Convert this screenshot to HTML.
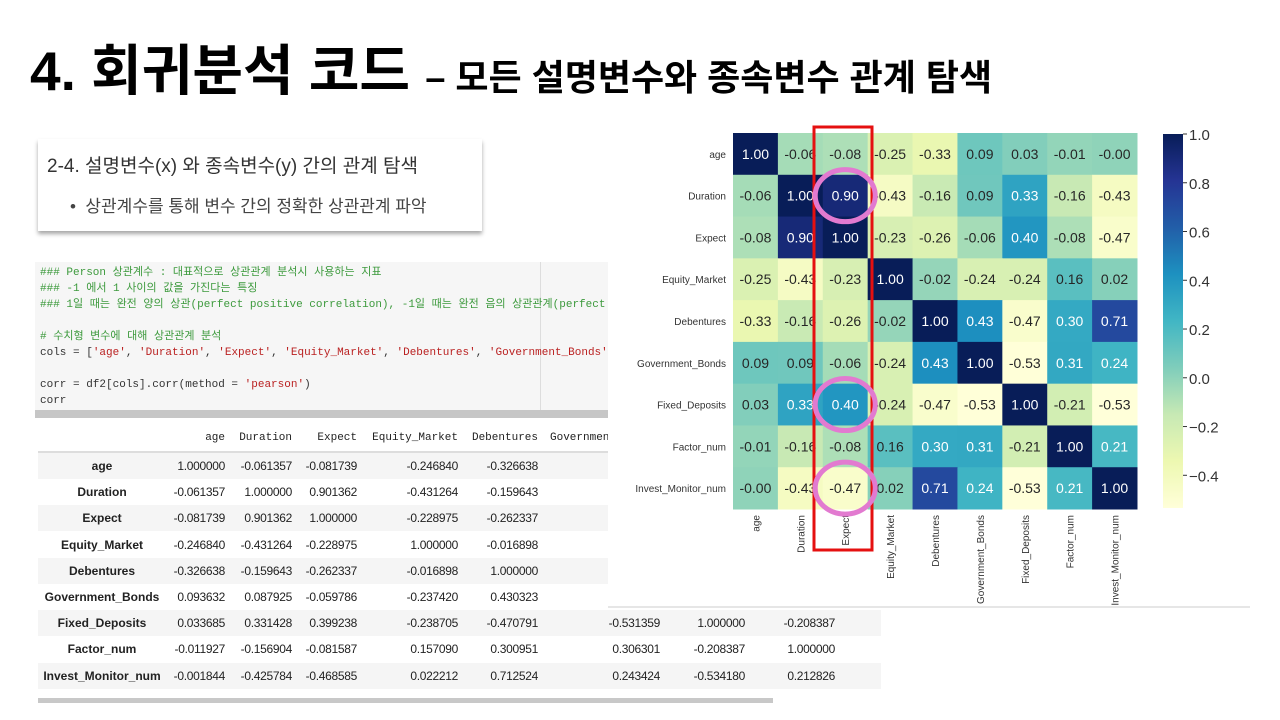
<!DOCTYPE html>
<html><head><meta charset="utf-8">
<style>
body{margin:0;width:1280px;height:720px;background:#fff;position:relative;overflow:hidden;font-family:"Liberation Sans","Noto Sans CJK KR",sans-serif}
.abs{position:absolute}
.code{font-family:"Liberation Mono","Noto Sans CJK KR",monospace;font-size:11px;white-space:pre;line-height:16px;color:#333}
.cm{color:#3d9a3d}.st{color:#ba2121}
.num{position:absolute;width:90px;text-align:right;top:6px;font-size:12px;letter-spacing:-0.3px;color:#222}
</style></head><body>
<div class="abs" style="left:30px;top:36px;font-family:'Liberation Sans','Noto Sans CJK KR',sans-serif;font-weight:bold;font-size:55px;line-height:70px;color:#000;white-space:nowrap">4. 회귀분석 코드 <span style="font-size:36px">– 모든 설명변수와 종속변수 관계 탐색</span></div>

<div class="abs" style="left:38px;top:139px;width:444px;height:92px;background:#fff;box-shadow:0 3px 4px rgba(0,0,0,0.35)">
 <div class="abs" style="left:9px;top:12px;font-size:19px;color:#333;white-space:nowrap">2-4. 설명변수(x) 와 종속변수(y) 간의 관계 탐색</div>
 <div class="abs" style="left:32px;top:53px;font-size:17px;color:#444;white-space:nowrap">•&nbsp; 상관계수를 통해 변수 간의 정확한 상관관계 파악</div>
</div>

<div class="abs" style="left:35px;top:262px;width:573px;height:156px;background:#f6f6f6;overflow:hidden">
 <div class="abs" style="left:505px;top:0;width:1px;height:148px;background:#ddd"></div>
 <div class="abs code" style="left:5px;top:3px"><span class="cm">### Person 상관계수 : 대표적으로 상관관계 분석시 사용하는 지표
### -1 에서 1 사이의 값을 가진다는 특징
### 1일 때는 완전 양의 상관(perfect positive correlation), -1일 때는 완전 음의 상관관계(perfect</span>

<span class="cm"># 수치형 변수에 대해 상관관계 분석</span>
cols = [<span class="st">'age'</span>, <span class="st">'Duration'</span>, <span class="st">'Expect'</span>, <span class="st">'Equity_Market'</span>, <span class="st">'Debentures'</span>, <span class="st">'Government_Bonds'</span>, <span class="st">'Fi</span>

corr = df2[cols].corr(method = <span class="st">'pearson'</span>)
corr</div>
 <div class="abs" style="left:0;top:148px;width:573px;height:8px;background:#c6c6c6"></div>
</div>

<div class="abs" id="tbl" style="left:38px;top:428px;width:843px;height:270px"></div>
<div class="abs" style="left:38px;top:698px;width:735px;height:5px;background:#c8c8c8"></div>

<div class="abs" style="left:608px;top:120px;width:642px;height:486px;background:#fff;border-bottom:2px solid #e6e6e6"></div>
<svg class="abs" id="hm" style="left:0;top:0" width="1280" height="720"></svg>

<script>
const labels=['age','Duration','Expect','Equity_Market','Debentures','Government_Bonds','Fixed_Deposits','Factor_num','Invest_Monitor_num'];
const corrAge=[1.000000,-0.061357,-0.081739,-0.246840,-0.326638,0.093632,0.033685,-0.011927,-0.001844];
const corrDuration=[-0.061357,1.000000,0.901362,-0.431264,-0.159643,0.087925,0.331428,-0.156904,-0.425784];
const corrExpect=[-0.081739,0.901362,1.000000,-0.228975,-0.262337,-0.059786,0.399238,-0.081587,-0.468585];
const corrEquity=[-0.246840,-0.431264,-0.228975,1.000000,-0.016898,-0.237420,-0.238705,0.157090,0.022212];
const corrDebentures=[-0.326638,-0.159643,-0.262337,-0.016898,1.000000,0.430323,-0.470791,0.300951,0.712524];
const corrGov=[0.093632,0.087925,-0.059786,-0.237420,0.430323,1.000000,-0.531359,0.306301,0.243424];
const corrFixed=[0.033685,0.331428,0.399238,-0.238705,-0.470791,-0.531359,1.000000,-0.208387,-0.534180];
const corrFactor=[-0.011927,-0.156904,-0.081587,0.157090,0.300951,0.306301,-0.208387,1.000000,0.212826];
const corrInvest=[-0.001844,-0.425784,-0.468585,0.022212,0.712524,0.243424,-0.534180,0.212826,1.000000];
const cbTicks=[1.0,0.8,0.6,0.4,0.2,0.0,-0.2,-0.4];
const M=[corrAge,corrDuration,corrExpect,corrEquity,corrDebentures,corrGov,corrFixed,corrFactor,corrInvest];
const vmin=-0.534180,vmax=1;
const stops=['#ffffd9','#edf8b1','#c7e9b4','#7fcdbb','#41b6c4','#1d91c0','#225ea8','#253494','#081d58'];
function hx(c){return [1,3,5].map(i=>parseInt(c.substr(i,2),16));}
function cmap(v){let t=(v-vmin)/(vmax-vmin);t=Math.max(0,Math.min(1,t))*8;let i=Math.min(7,Math.floor(t)),f=t-i;const a=hx(stops[i]),b=hx(stops[i+1]);return 'rgb('+a.map((x,k)=>Math.round(x+(b[k]-x)*f)).join(',')+')';}
const NS='http://www.w3.org/2000/svg';
const svg=document.getElementById('hm');
function el(t,at,txt){const e=document.createElementNS(NS,t);for(const k in at)e.setAttribute(k,at[k]);if(txt!==undefined)e.textContent=txt;svg.appendChild(e);return e;}
const gx=733,gy=133,gw=404,gh=376,cw=gw/9,ch=gh/9;
const xS=j=>gx+j*cw, yS=i=>gy+i*ch;
for(let i=0;i<9;i++)for(let j=0;j<9;j++){
 const v=M[i][j];
 const r=el('rect',{x:xS(j),y:yS(i),width:cw+0.5,height:ch+0.5,fill:cmap(v)});
 
 
 const t=el('text',{x:xS(j)+cw/2,y:yS(i)+ch/2+5,'text-anchor':'middle','font-size':14,'font-family':'Liberation Sans, sans-serif',fill:v>0.2?'#fff':'#262626'},v.toFixed(2));
 
 
}
labels.forEach((l,i)=>{
 const t=el('text',{x:726,y:yS(i)+ch/2+4,'text-anchor':'end','font-size':10,fill:'#333','font-family':'Liberation Sans, sans-serif'},l);
 
 
 const cx=xS(i)+cw/2+4;
 const u=el('text',{x:cx,y:515,'text-anchor':'end','font-size':10,fill:'#333','font-family':'Liberation Sans, sans-serif',transform:'rotate(-90 '+cx+' 515)'},l);
 
 
});
const cbx=1163,cbw=20,cbTop=134,cbBot=508;
const cy=v=>cbTop+(vmax-v)/(vmax-vmin)*(cbBot-cbTop);
const defs=el('defs',{});
const lg=document.createElementNS(NS,'linearGradient');lg.setAttribute('id','cbg');lg.setAttribute('x1','0');lg.setAttribute('y1','1');lg.setAttribute('x2','0');lg.setAttribute('y2','0');
stops.forEach((c,k)=>{const s=document.createElementNS(NS,'stop');s.setAttribute('offset',k/8);s.setAttribute('stop-color',c);lg.appendChild(s);});
defs.appendChild(lg);
const cb=el('rect',{x:cbx,y:cbTop,width:cbw,height:cbBot-cbTop,fill:'url(#cbg)'});


cbTicks.forEach(v=>{
 el('line',{x1:cbx+cbw,x2:cbx+cbw+4,y1:cy(v),y2:cy(v),stroke:'#333'});
 const t=el('text',{x:cbx+cbw+6,y:cy(v)+6,'font-size':15,fill:'#333','font-family':'Liberation Sans, sans-serif'},(v<0?'\u2212':'')+Math.abs(v).toFixed(1));
 
 
});
const hl=el('rect',{x:814,y:127,width:58,height:423,fill:'none',stroke:'#e51010','stroke-width':3});


[1,6,8].forEach(i=>{
 const c=el('ellipse',{cx:xS(2)+cw/2,cy:yS(i)+ch/2,rx:30,ry:26,fill:'none',stroke:'#e27ad0','stroke-width':5});
 
 
});
const cols=[['age',225],['Duration',292],['Expect',357],['Equity_Market',458],['Debentures',538],['Government_Bonds',660],['Fixed_Deposits',745],['Factor_num',835]];
let h='';
cols.forEach((c,k)=>{if(k<5)h+='<div style="position:absolute;top:4px;left:'+(c[1]-38-120)+'px;width:120px;text-align:right;font-family:Liberation Mono,monospace;font-size:11px;white-space:nowrap;color:#222">'+c[0]+'</div>';});
h+='<div style="position:absolute;top:4px;left:512px;width:58px;overflow:hidden;font-family:Liberation Mono,monospace;font-size:11px;white-space:nowrap;color:#222">Government_Bonds</div>';
h+='<div style="position:absolute;left:0;top:23px;width:570px;height:2px;background:#ddd"></div>';
labels.forEach((l,i)=>{
 const top=25+i*26.2,wide=i>=6;
 h+='<div style="position:absolute;left:0;top:'+top+'px;width:'+(wide?843:570)+'px;height:26px;background:'+(i%2==0?'#f5f5f5':'#fff')+'">';
 h+='<div style="position:absolute;left:0;width:128px;text-align:center;top:6px;font-weight:bold;font-size:12px;color:#222;white-space:nowrap">'+l+'</div>';
 cols.forEach((c,k)=>{if(k>=5&&!wide)return;h+='<div class="num" style="left:'+(c[1]-38-90)+'px">'+M[i][k].toFixed(6)+'</div>';});
 h+='</div>';
});
document.getElementById('tbl').innerHTML=h;
</script>
</body></html>
